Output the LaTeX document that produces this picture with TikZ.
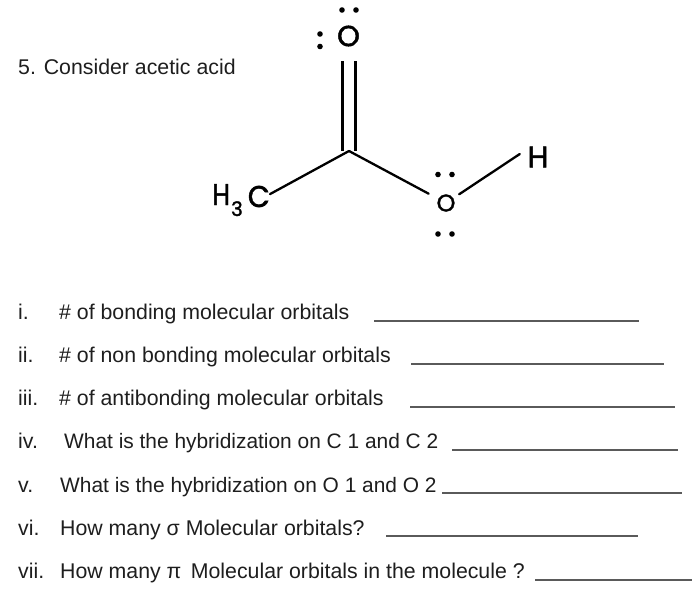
\documentclass[tikz,border=0pt]{standalone}
\usepackage{fontspec}
\setmainfont{Liberation Sans}
\newfontfamily\hand[FakeBold=1.6]{Poppins}
\definecolor{ink}{HTML}{1E1E1E}
\definecolor{rulegray}{HTML}{5A5A5A}
\tikzset{
  qtext/.style={anchor=base west,inner sep=0pt,text=ink,font=\fontsize{21.3}{24}\selectfont},
  qtight/.style={anchor=base west,inner sep=0pt,text=ink,font=\fontsize{20.9}{24}\selectfont},
  answer/.style={draw=rulegray,line width=1.4pt},
  bond/.style={draw=black,line width=2.3pt},
  atom/.style={inner sep=0pt,text=black},
  pairdot/.style={circle,fill=black,inner sep=0pt,minimum size=5.6pt},
  blank/.style={coordinate}
}
\begin{document}
\begin{tikzpicture}[x=1pt,y=-1pt]
\useasboundingbox[fill=white] (0,0) rectangle (700,594);
\node[qtext] (title) at (18,74.5) {5. Consider acetic acid};
% molecule
\coordinate (c) at (349,151);
\node[atom,font=\hand\fontsize{29}{29}\selectfont,minimum height=50pt] (otop) at (348.5,36) {O};
\node[atom,font=\hand\fontsize{24}{24}\selectfont,minimum width=29pt] (o2) at (446,203) {O};
\node[atom,font=\hand\fontsize{30}{30}\selectfont,minimum width=36pt] (h) at (538,157) {H};
\node[atom,anchor=base east,font=\hand\fontsize{30}{30}\selectfont] (ch3) at (270,207) {\raisebox{2pt}{\scalebox{0.85}[1]{H}}\kern1pt\raisebox{-9pt}{\fontsize{20}{20}\selectfont 3}\kern5pt\scalebox{0.95}[1]{C}};
\draw[bond] ([xshift=-6pt]otop.south) -- ([xshift=-6pt]otop.south |- c);
\draw[bond] ([xshift=7pt]otop.south) -- ([xshift=7pt]otop.south |- c);
\draw[bond,line cap=round] (c) -- ([yshift=6pt]ch3.east);
\draw[bond,line cap=round,shorten >=3pt] (c) -- (o2);
\draw[bond,line cap=round] (o2) -- ([yshift=3pt]h.west);
\node[pairdot] (d1) at (342,10) {};
\node[pairdot] (d2) at (356,10) {};
\node[pairdot] (d3) at (320,34) {};
\node[pairdot] (d4) at (320,46.5) {};
\node[pairdot] (d5) at (438,174.5) {};
\node[pairdot] (d6) at (452,174.5) {};
\node[pairdot] (d7) at (438,234) {};
\node[pairdot] (d8) at (452,234) {};
% questions
\node[qtext] (n1) at (18,319) {i.};
\node[qtext] (q1) at (59,319) {\# of bonding molecular orbitals};
\node[qtext] (n2) at (18,362) {ii.};
\node[qtext] (q2) at (59,362) {\# of non bonding molecular orbitals};
\node[qtext] (n3) at (18,405) {iii.};
\node[qtext] (q3) at (59,405) {\# of antibonding molecular orbitals};
\node[qtext] (n4) at (18,448) {iv.};
\node[qtight] (q4) at (64,448) {What is the hybridization on C 1 and C 2};
\node[qtext] (n5) at (18,492) {v.};
\node[qtight] (q5) at (60,492) {What is the hybridization on O 1 and O 2};
\node[qtext] (n6) at (18,535) {vi.};
\node[qtext] (q6) at (60,535) {How many σ Molecular orbitals?};
\node[qtext] (n7) at (18,578) {vii.};
\node[qtext] (q7) at (60,578) {How many π\, Molecular orbitals in the molecule ?};
% answer rules
\coordinate (a1) at (374,321); \coordinate (b1) at (639,321);
\coordinate (a2) at (411,364); \coordinate (b2) at (664,364);
\coordinate (a3) at (410,407); \coordinate (b3) at (675,407);
\coordinate (a4) at (452,450); \coordinate (b4) at (678,450);
\coordinate (a5) at (442,493); \coordinate (b5) at (682,493);
\coordinate (a6) at (386,536); \coordinate (b6) at (638,536);
\coordinate (a7) at (535,580); \coordinate (b7) at (692,580);
\draw[answer] (a1) -- (b1);
\draw[answer] (a2) -- (b2);
\draw[answer] (a3) -- (b3);
\draw[answer] (a4) -- (b4);
\draw[answer] (a5) -- (b5);
\draw[answer] (a6) -- (b6);
\draw[answer] (a7) -- (b7);
\end{tikzpicture}
\end{document}
